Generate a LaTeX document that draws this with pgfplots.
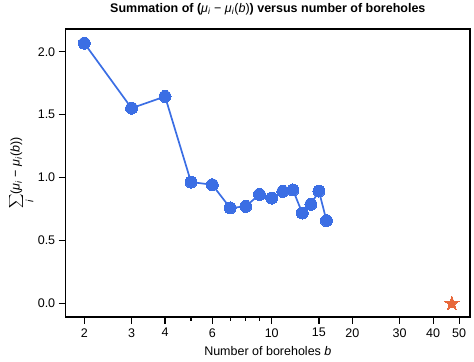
\documentclass[border=0pt]{standalone}
\usepackage{fontspec}
\setmainfont{Liberation Sans}
\usepackage{pgfplots}
\pgfplotsset{compat=1.18}
\definecolor{lineblue}{RGB}{59,110,228}
\definecolor{starorange}{RGB}{232,104,58}
\pgfdeclareplotmark{fstar}{%
\pgfpathmoveto{\pgfpointpolar{90}{\pgfplotmarksize}}%
\pgfpathlineto{\pgfpointpolar{126}{0.4\pgfplotmarksize}}%
\pgfpathlineto{\pgfpointpolar{162}{\pgfplotmarksize}}%
\pgfpathlineto{\pgfpointpolar{198}{0.4\pgfplotmarksize}}%
\pgfpathlineto{\pgfpointpolar{234}{\pgfplotmarksize}}%
\pgfpathlineto{\pgfpointpolar{270}{0.4\pgfplotmarksize}}%
\pgfpathlineto{\pgfpointpolar{306}{\pgfplotmarksize}}%
\pgfpathlineto{\pgfpointpolar{342}{0.4\pgfplotmarksize}}%
\pgfpathlineto{\pgfpointpolar{18}{\pgfplotmarksize}}%
\pgfpathlineto{\pgfpointpolar{54}{0.4\pgfplotmarksize}}%
\pgfpathclose\pgfusepathqfillstroke}
\begin{document}
\begin{tikzpicture}
\path (-65.7pt,-44.3pt) rectangle (408.3pt,311.7pt);
\begin{axis}[
  at={(0,0)}, anchor=south west,
  scale only axis,
  width=404.3pt, height=287.7pt,
  xmode=log,
  xmin=1.704, xmax=54.9,
  ymin=-0.106, ymax=2.18,
  xtick={2,3,4,6,10,15,20,30,40,50},
  xticklabels={2,3,4,6,10,15,20,30,40,50},
  minor xtick={5,7,8,9},
  ytick={0,0.5,1,1.5,2},
  yticklabels={0.0,0.5,1.0,1.5,2.0},
  tick pos=left,
  tick align=outside,
  major tick length=7pt,
  minor tick length=4pt,
  every tick/.style={black, line width=1.2pt},
  axis line style={line width=1.4pt},
  /pgf/number format/assume math mode=true,
  tick label style={font=\fontsize{12.5}{14}\selectfont},
  xticklabel style={yshift=-1pt},
  title={\textbf{Summation of (}\textit{μ}\textsubscript{\textit{i}} − \textit{μ}\textsubscript{\textit{i}}(\textit{b})\textbf{) versus number of boreholes}},
  title style={font=\fontsize{12.5}{14}\selectfont, at={(axis description cs:0.5,1)}, anchor=center, yshift=14pt},
  xlabel={Number of boreholes \textit{b}},
  xlabel style={font=\fontsize{12.5}{14}\selectfont, at={(axis description cs:0.5,0)}, anchor=center, yshift=-34.5pt},
  ylabel={{\fontsize{15}{16}\selectfont$\displaystyle\sum_{\mathit{i}}$}(\textit{μ}\textsubscript{\textit{i}} − \textit{μ}\textsubscript{\textit{i}}(\textit{b}))},
  ylabel style={font=\fontsize{12.5}{14}\selectfont, at={(axis description cs:-0.11,0.5)}, anchor=center},
  clip=false,
]
\addplot[color=lineblue, line width=1.7pt, mark=*, mark size=6pt, mark options={fill=lineblue, draw=lineblue, line width=0pt}]
coordinates {
(2,2.068) (3,1.552) (4,1.645) (5,0.965) (6,0.944) (7,0.759) (8,0.772) (9,0.867) (10,0.838) (11,0.891) (12,0.902) (13,0.719) (14,0.788) (15,0.894) (16,0.659)
};
\addplot[only marks, mark=fstar, mark size=7.5pt, color=starorange, mark options={fill=starorange, draw=starorange, line width=0pt}]
coordinates {(47,0.0)};
\end{axis}
\end{tikzpicture}
\end{document}
